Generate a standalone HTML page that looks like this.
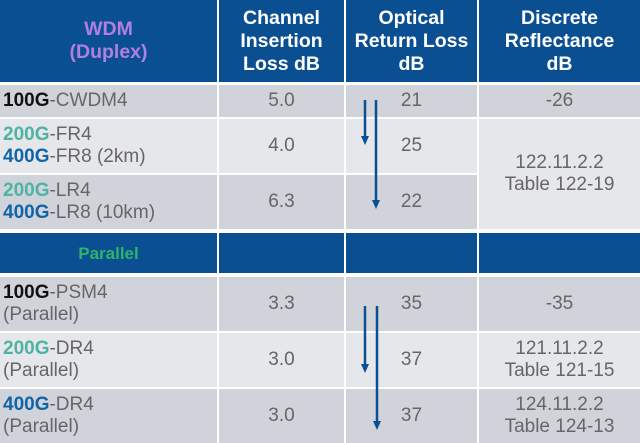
<!DOCTYPE html>
<html><head><meta charset="utf-8"><style>
body{margin:0;width:640px;height:443px;background:#fff;overflow:hidden;font-family:"Liberation Sans",sans-serif;position:relative}
.c{position:absolute;display:flex;align-items:center;justify-content:center;text-align:center;box-sizing:border-box;font-size:19px;color:#666;line-height:22px;white-space:nowrap}
.h{background:#0b4f93;color:#fff;font-weight:bold;font-size:19.5px;line-height:23px}
.d{background:#d1d3da}.l{background:#e6e7eb}
.left{justify-content:flex-start;text-align:left;padding-left:3px}
.k{color:#111;font-weight:bold}.t{color:#4fb3a4;font-weight:bold}.b{color:#1065a8;font-weight:bold}
</style></head><body>
<div class="c h" style="left:0;top:0;width:217px;height:82px;color:#b07fe0">WDM<br>(Duplex)</div>
<div class="c h" style="left:219px;top:0;width:125px;height:82px">Channel<br>Insertion<br>Loss dB</div>
<div class="c h" style="left:346px;top:0;width:131px;height:82px">Optical<br>Return Loss<br>dB</div>
<div class="c h" style="left:479px;top:0;width:161px;height:82px">Discrete<br>Reflectance<br>dB</div>

<div class="c d left" style="left:0;top:85px;width:217px;height:32px"><span><span class="k">100G</span>-CWDM4</span></div>
<div class="c d" style="left:219px;top:85px;width:125px;height:32px">5.0</div>
<div class="c d" style="left:346px;top:85px;width:131px;height:32px">21</div>
<div class="c d" style="left:479px;top:85px;width:161px;height:32px">-26</div>

<div class="c l left" style="left:0;top:119px;width:217px;height:54px"><span><span class="t">200G</span>-FR4<br><span class="b">400G</span>-FR8 (2km)</span></div>
<div class="c l" style="left:219px;top:119px;width:125px;height:54px">4.0</div>
<div class="c l" style="left:346px;top:119px;width:131px;height:54px">25</div>
<div class="c l" style="left:479px;top:119px;width:161px;height:110px">122.11.2.2<br>Table 122-19</div>

<div class="c d left" style="left:0;top:175px;width:217px;height:54px"><span><span class="t">200G</span>-LR4<br><span class="b">400G</span>-LR8 (10km)</span></div>
<div class="c d" style="left:219px;top:175px;width:125px;height:54px">6.3</div>
<div class="c d" style="left:346px;top:175px;width:131px;height:54px">22</div>

<div class="c h" style="left:0;top:233px;width:217px;height:40px;color:#2db36a;font-size:17px">Parallel</div>
<div class="c h" style="left:219px;top:233px;width:125px;height:40px"></div>
<div class="c h" style="left:346px;top:233px;width:131px;height:40px"></div>
<div class="c h" style="left:479px;top:233px;width:161px;height:40px"></div>

<div class="c d left" style="left:0;top:277px;width:217px;height:54px"><span><span class="k">100G</span>-PSM4<br>(Parallel)</span></div>
<div class="c d" style="left:219px;top:277px;width:125px;height:54px">3.3</div>
<div class="c d" style="left:346px;top:277px;width:131px;height:54px">35</div>
<div class="c d" style="left:479px;top:277px;width:161px;height:54px">-35</div>

<div class="c l left" style="left:0;top:333px;width:217px;height:54px"><span><span class="t">200G</span>-DR4<br>(Parallel)</span></div>
<div class="c l" style="left:219px;top:333px;width:125px;height:54px">3.0</div>
<div class="c l" style="left:346px;top:333px;width:131px;height:54px">37</div>
<div class="c l" style="left:479px;top:333px;width:161px;height:54px">121.11.2.2<br>Table 121-15</div>

<div class="c d left" style="left:0;top:389px;width:217px;height:54px"><span><span class="b">400G</span>-DR4<br>(Parallel)</span></div>
<div class="c d" style="left:219px;top:389px;width:125px;height:54px">3.0</div>
<div class="c d" style="left:346px;top:389px;width:131px;height:54px">37</div>
<div class="c d" style="left:479px;top:389px;width:161px;height:54px">124.11.2.2<br>Table 124-13</div>

<svg width="640" height="443" style="position:absolute;left:0;top:0" >
<g stroke="#0b4f93" stroke-width="2.5" fill="#0b4f93">
<line x1="365" y1="100" x2="365" y2="138"/><polygon points="361,136 369,136 365,145" stroke="none"/>
<line x1="376" y1="100" x2="376" y2="202"/><polygon points="372,200 380,200 376,209" stroke="none"/>
<line x1="365" y1="306" x2="365" y2="366"/><polygon points="361,364 369,364 365,373" stroke="none"/>
<line x1="377" y1="306" x2="377" y2="423"/><polygon points="373,421 381,421 377,430" stroke="none"/>
</g></svg>
</body></html>
